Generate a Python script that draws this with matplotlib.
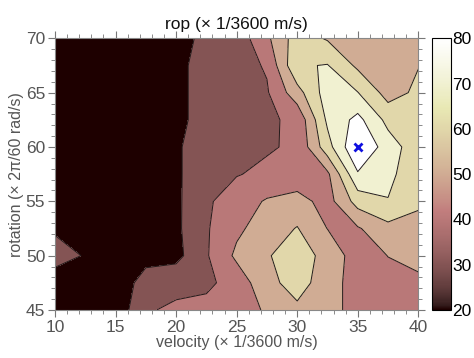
import numpy as np
import matplotlib.pyplot as plt
from matplotlib.colors import Normalize
from matplotlib.cm import ScalarMappable
from matplotlib.ticker import MultipleLocator

plt.rcParams['font.family'] = ['Liberation Sans', 'DejaVu Sans']

# grid of measurements
velocity = [10, 12.5, 15, 17.5, 20, 22.5, 25, 27.5, 30, 32.5, 35, 37.5, 40]
rotation = [45, 47.5, 50, 52.5, 55, 57.5, 60, 62.5, 65, 67.5, 70]

# rop, one row per rotation value (bottom to top)
rop_45 = [20, 20, 23, 39, 41.8, 43, 46, 51, 58, 54, 46, 44, 45]
rop_47 = [26, 22, 22, 35, 37, 38, 44, 57, 64, 55, 45, 46, 48]
rop_50 = [33, 29.5, 22, 26, 27, 39, 52, 59.5, 63, 58, 44, 50.2, 53]
rop_52 = [29, 21, 21, 22, 28, 39, 48, 55, 60.5, 49.8, 49, 57, 58]
rop_55 = [21, 21, 21, 22, 28, 38.5, 45, 51, 54, 46, 64, 69.5, 61]
rop_57 = [21, 21, 20, 23, 29, 34, 39.5, 42, 43, 48, 79, 73, 62]
rop_60 = [21, 20, 20, 23, 29, 34, 37, 39, 41.5, 66, 90, 75, 64]
rop_62 = [21, 20, 20, 22, 28, 33, 36, 38.5, 42, 72, 83, 67, 64]
rop_65 = [21, 20, 20, 22, 28, 33, 37, 39, 56, 75, 70.3, 56, 62]
rop_67 = [20, 20, 20, 22, 28, 33, 36, 41, 69, 70.5, 58, 56, 59.7]
rop_70 = [20, 20, 20, 21, 27, 32, 34, 48, 65, 59, 56, 54, 55]

best_v, best_r = 35, 60
levels = [30, 40, 50, 60, 70, 80]
cbar_ticks = [20, 30, 40, 50, 60, 70, 80]

Z = np.array([rop_45, rop_47, rop_50, rop_52, rop_55, rop_57,
              rop_60, rop_62, rop_65, rop_67, rop_70])
X, Y = np.meshgrid(velocity, rotation)

cmap = plt.get_cmap('pink')
norm = Normalize(20, 80)
# each band takes the colour of its lower level (matlab style)
fill_colors = [cmap(norm(v)) for v in [20] + levels]

fig = plt.figure(figsize=(4.74, 3.58), dpi=100)
ax = fig.add_axes([0.116, 0.134, 0.7665, 0.759])
cax = fig.add_axes([0.911, 0.134, 0.040, 0.759])

ax.contourf(X, Y, Z, levels=[0] + levels + [200], colors=fill_colors)
ax.contour(X, Y, Z, levels=levels, colors='#221a1a', linewidths=0.7)
ax.plot(best_v, best_r, 'x', color='#1010e0', markersize=6, mew=2)

ax.set_xlim(10, 40)
ax.set_ylim(45, 70)
ax.xaxis.set_major_locator(MultipleLocator(5))
ax.yaxis.set_major_locator(MultipleLocator(5))
ax.xaxis.set_minor_locator(MultipleLocator(1))
ax.yaxis.set_minor_locator(MultipleLocator(1))
ax.tick_params(which='both', direction='out', top=True, right=True,
               colors='#777777', labelcolor='#555555', labelsize=12.5)
ax.tick_params(which='major', length=5, width=0.8, pad=2)
ax.tick_params(which='minor', length=3, width=0.6)
for s in ax.spines.values():
    s.set_color('#888888')
    s.set_linewidth(0.8)

ax.set_xlabel('velocity (\u00d7 1/3600 m/s)', fontsize=11.5, color='#555555', labelpad=0)
ax.set_ylabel('rotation (\u00d7 2\u03c0/60 rad/s)', fontsize=11.5, color='#555555', labelpad=1)
ax.set_title('rop (\u00d7 1/3600 m/s)', fontsize=12.5, color='#111111', pad=7)

cb = fig.colorbar(ScalarMappable(norm=norm, cmap=cmap), cax=cax, ticks=cbar_ticks)
cb.outline.set_edgecolor('black')
cb.outline.set_linewidth(0.8)
cax.tick_params(length=0, labelsize=12.5, pad=1)

fig.savefig('out.png', dpi=100)
